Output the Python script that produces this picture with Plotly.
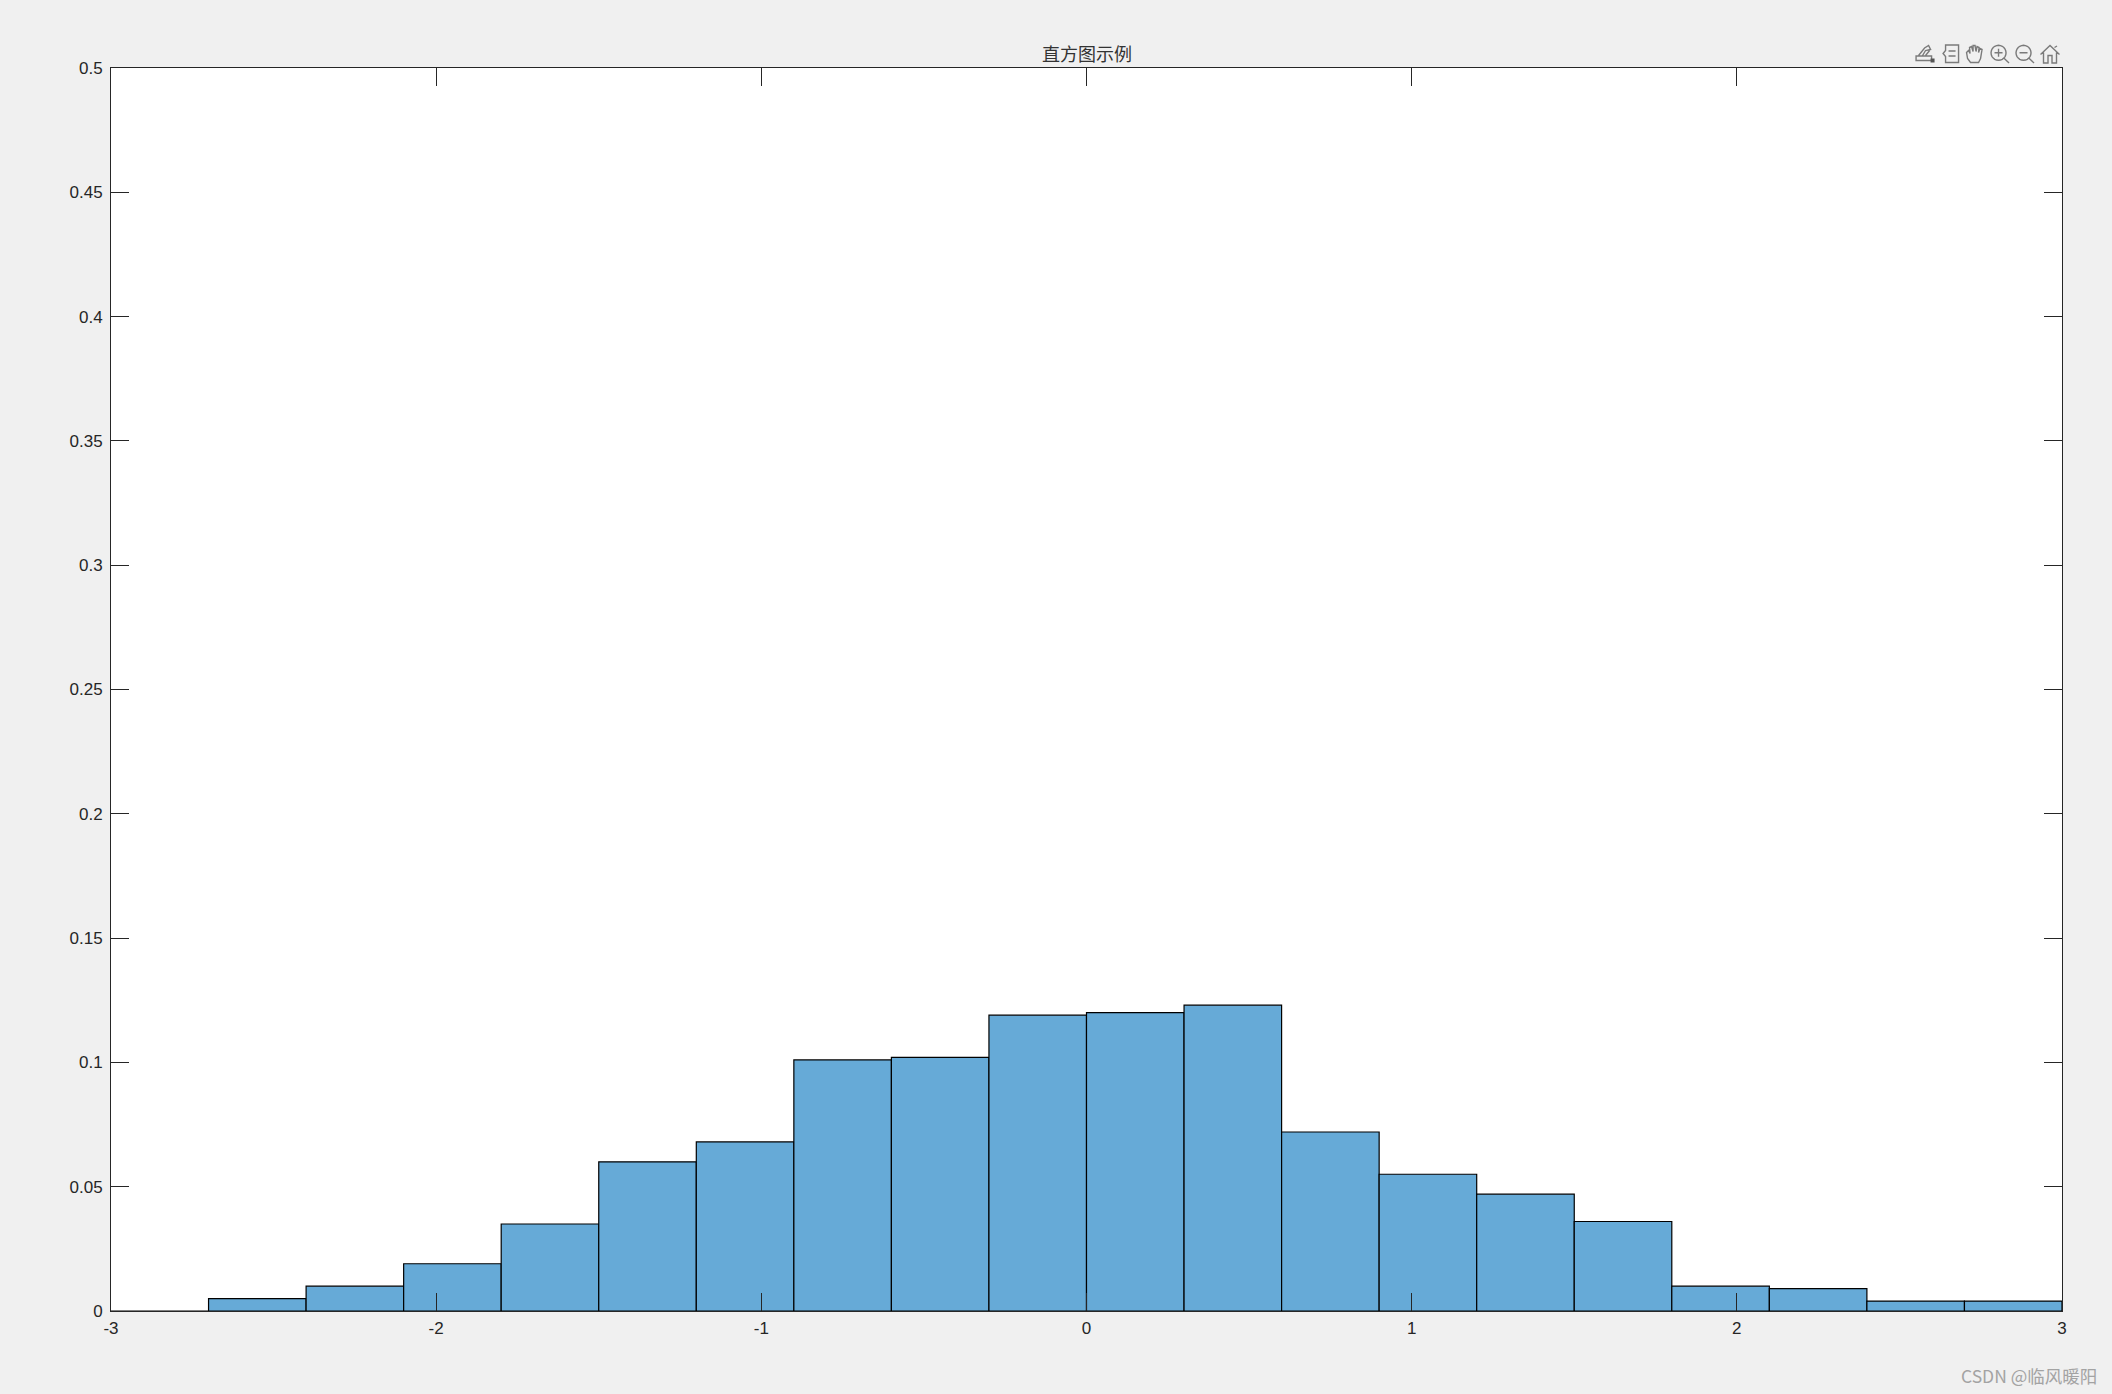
import plotly.graph_objects as go
import math

bin_left = [-3.0, -2.7, -2.4, -2.1, -1.8, -1.5, -1.2, -0.9, -0.6, -0.3,
            0.0, 0.3, 0.6, 0.9, 1.2, 1.5, 1.8, 2.1, 2.4, 2.7]
probability = [0, 0.005, 0.010, 0.019, 0.035, 0.060, 0.068, 0.101, 0.102, 0.119,
               0.120, 0.123, 0.072, 0.055, 0.047, 0.036, 0.010, 0.009, 0.004, 0.004]
bin_width = 0.3
x_ticks = [-3, -2, -1, 0, 1, 2, 3]
y_ticks = [0, 0.05, 0.1, 0.15, 0.2, 0.25, 0.3, 0.35, 0.4, 0.45, 0.5]
y_labels = ["0", "0.05", "0.1", "0.15", "0.2", "0.25", "0.3", "0.35", "0.4", "0.45", "0.5"]
title = "直方图示例"
watermark = "CSDN @临风暖阳"

W, H = 2112, 1394
L, R, T, B = 110.5, 2062.5, 67.5, 1311
AX = "#262626"


def px(x):
    return (x - L) / (R - L)


def py(y):
    return (B - y) / (B - T)


def path(cmds):
    out = []
    for c in cmds:
        if len(c) == 1:
            out.append(c[0])
        else:
            vals = [f"{px(c[i]):.5f},{py(c[i + 1]):.5f}" for i in range(1, len(c), 2)]
            out.append(c[0] + " " + " ".join(vals))
    return " ".join(out)


def circle(cx, cy, r, n=24):
    pts = [(cx + r * math.cos(2 * math.pi * i / n), cy + r * math.sin(2 * math.pi * i / n)) for i in range(n)]
    return [("M", *pts[0])] + [("L", *p) for p in pts[1:]] + [("Z",)]


icon_paths = [
    # brush
    [("M", 1916.5, 55.5), ("L", 1932, 55.5), ("L", 1932, 60), ("L", 1916.5, 60), ("Z",),
     ("M", 1919, 55), ("L", 1925, 47.5), ("L", 1929, 45), ("L", 1931, 49), ("L", 1926, 50),
     ("L", 1923, 55), ("M", 1926, 55), ("L", 1930, 50)],
    # data tip
    [("M", 1946, 44.5), ("L", 1959, 44.5), ("L", 1959, 62), ("L", 1946, 62), ("L", 1946, 56),
     ("L", 1943.5, 53), ("L", 1946, 50), ("Z",),
     ("M", 1949, 50.5), ("L", 1956, 50.5), ("M", 1949, 55.5), ("L", 1956, 55.5)],
    # hand
    [("M", 1968, 58), ("L", 1967, 52), ("L", 1969, 50), ("L", 1970.5, 53), ("L", 1970, 47),
     ("L", 1972, 46), ("L", 1973.5, 51), ("L", 1973.5, 45), ("L", 1975.5, 45), ("L", 1976.5, 51),
     ("L", 1977.5, 46), ("L", 1979.5, 47), ("L", 1979, 52), ("L", 1980.5, 48), ("L", 1982.5, 49),
     ("L", 1981, 58), ("L", 1979, 62), ("L", 1971, 62), ("Z",)],
    # zoom in
    circle(1999, 52.3, 7.5) + [("M", 2004.5, 57.8), ("L", 2009.5, 62.5),
                               ("M", 1995, 52.3), ("L", 2003, 52.3), ("M", 1999, 48.3), ("L", 1999, 56.3)],
    # zoom out
    circle(2024, 52.3, 7.5) + [("M", 2029.5, 57.8), ("L", 2034.5, 62.5), ("M", 2020, 52.3), ("L", 2028, 52.3)],
    # home
    [("M", 2041, 54), ("L", 2050.5, 45), ("L", 2060, 54),
     ("M", 2044, 52), ("L", 2044, 62.5), ("L", 2048.5, 62.5), ("L", 2048.5, 55), ("L", 2052.5, 55),
     ("L", 2052.5, 62.5), ("L", 2057, 62.5), ("L", 2057, 52),
     ("M", 2055, 47), ("L", 2057.5, 45.5)],
]
shapes = [
    dict(type="path", xref="paper", yref="paper", path=path(p),
         line=dict(color="#7a7a7a", width=1.4), fillcolor="rgba(0,0,0,0)")
    for p in icon_paths
]
shapes.append(dict(type="path", xref="paper", yref="paper",
                   path=path([("M", 1931, 58), ("L", 1935, 58), ("L", 1935, 62), ("L", 1931, 62), ("Z",)]),
                   line=dict(width=0), fillcolor="#555555"))

fig = go.Figure(
    go.Bar(
        x=[v + bin_width / 2 for v in bin_left],
        y=probability,
        width=bin_width,
        marker=dict(color="#66AAD7", line=dict(color="#000000", width=1.2)),
        hoverinfo="skip",
    )
)

axis_common = dict(
    showgrid=False, zeroline=False, showline=True, linecolor=AX, linewidth=1,
    mirror="ticks", ticks="inside", ticklen=18, tickwidth=1, tickcolor=AX,
    tickfont=dict(family="Liberation Sans, Arial, sans-serif", size=17, color=AX),
    layer="above traces",
)
fig.update_xaxes(range=[-3, 3], tickmode="array", tickvals=x_ticks,
                 ticktext=[str(v) for v in x_ticks], ticklabelstandoff=2, **axis_common)
fig.update_yaxes(range=[0, 0.5], tickmode="array", tickvals=y_ticks, ticktext=y_labels,
                 ticklabelstandoff=4, **axis_common)

fig.update_layout(
    width=W, height=H, autosize=False, showlegend=False,
    paper_bgcolor="#F0F0F0", plot_bgcolor="#FFFFFF",
    margin=dict(l=L, r=W - R, t=T, b=H - B, pad=0),
    shapes=shapes,
    annotations=[
        dict(text=title, xref="paper", yref="paper", x=0.5, y=py(52), xanchor="center", yanchor="middle",
             showarrow=False, font=dict(family="Noto Sans CJK SC", size=18, color="#333333")),
        dict(text=watermark, xref="paper", yref="paper", x=px(2100), y=py(1376), xanchor="right", yanchor="middle",
             showarrow=False, font=dict(family="Noto Sans CJK SC, Liberation Sans", size=17.5, color="#a3a3a3")),
    ],
)
fig.write_html("out.html", config=dict(displayModeBar=False),
               post_script="document.body.style.margin='0';document.body.style.background='#F0F0F0';")
